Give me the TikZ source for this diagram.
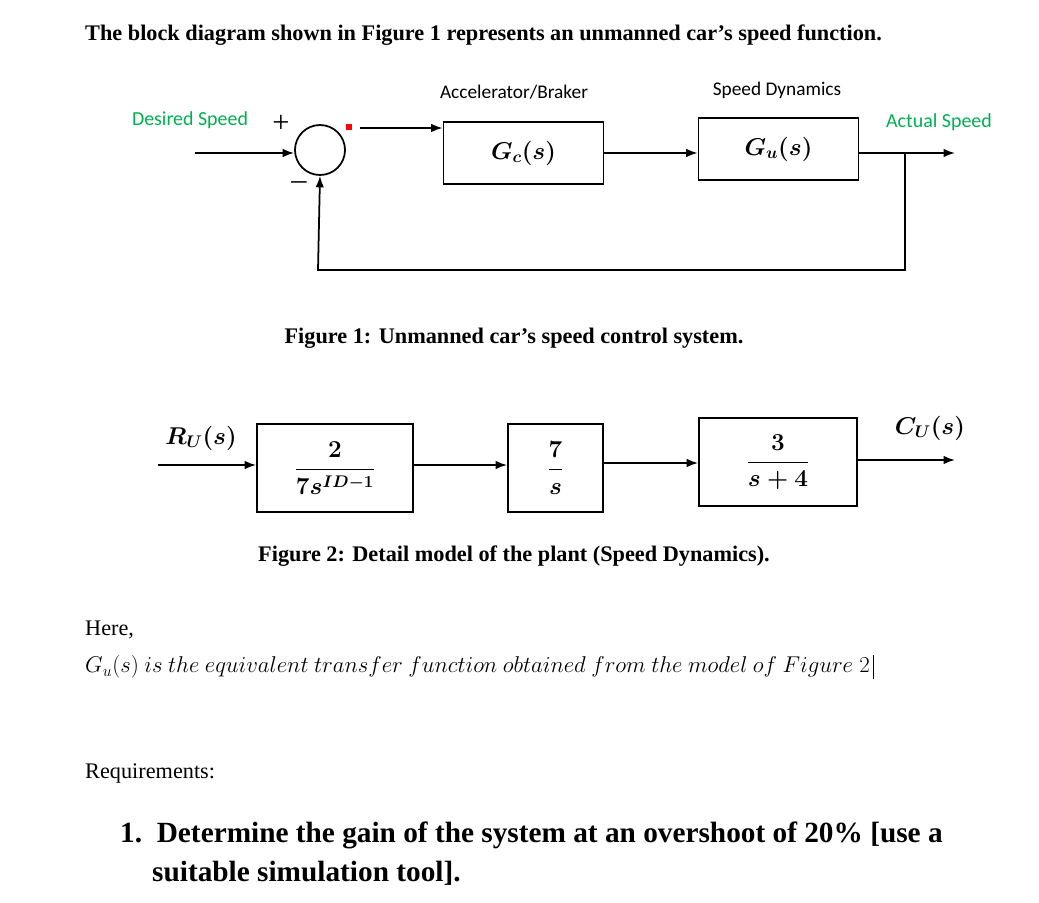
\documentclass[tikz,border=0pt]{standalone}
\usepackage{amsmath,bm}
\usepackage{fontspec}
\setmainfont{Liberation Serif}
\newfontfamily\carl{Carlito}
\usetikzlibrary{arrows.meta,positioning}
\definecolor{labelgreen}{RGB}{0,176,80}

\begin{document}
\begin{tikzpicture}[x=0.03cm, y=-0.03cm, >=Latex,
  every node/.style={inner sep=0pt},
  block/.style={draw, line width=1.5pt, minimum width=4.8cm, minimum height=1.86cm,
                font=\fontsize{22}{26}\selectfont},
  sig/.style={line width=1.5pt, ->},
  green label/.style={text=labelgreen, font=\carl\fontsize{17}{20}\selectfont},
  top label/.style={font=\carl\fontsize{16.5}{20}\selectfont},
  caption/.style={font=\bfseries\fontsize{19}{22}\selectfont},
  body/.style={anchor=west, font=\fontsize{19}{22}\selectfont}]
\useasboundingbox (0,0) rectangle (1039,903);

\node[anchor=west, font=\bfseries\fontsize{19}{22}\selectfont] (title) at (85,35)
  {The block diagram shown in Figure 1 represents an unmanned car’s speed function.};

% Figure 1
\node[draw, line width=1.5pt, circle, minimum size=1.5cm] (sum) at (320,150) {};
\coordinate (in) at (195,153);
\node[green label] (desired) at (190,120) {Desired Speed};
\node[font=\fontsize{26}{26}\selectfont] (plus) at (281,124) {+};
\node[font=\fontsize{26}{26}\selectfont] (minus) at (299,186) {\textendash};
\node[fill=red, minimum size=5pt] (dot) at (349,127) {};
\node[block] (gc) at (523.5,153) {$\bm{G_c(s)}$};
\node[block] (gu) at (778.5,149) {$\bm{G_u(s)}$};
\node[top label] (acc) at (514,92) {Accelerator/Braker};
\node[top label] (dyn) at (777,90) {Speed Dynamics};
\coordinate (out) at (955,153);
\coordinate (tap) at (905,153);
\node[green label] (actual) at (939,122) {Actual Speed};

\draw[sig] (in) -- (sum.west |- in);
\draw[sig] (360,128) -- (gc.west |- 0,128);
\draw[sig] (gc.east) -- (gu.west |- gc.east);
\draw[sig] (gu.east |- out) -- (out);
\draw[sig] (tap) -- (905,270) -- (318,270) -- (sum.south);

\node[caption] (cap1) at (514,338) {Figure 1: Unmanned car’s speed control system.};

% Figure 2
\node[block, minimum width=4.68cm, minimum height=2.64cm] (b1) at (335,468)
  {$\bm{\dfrac{2}{7s^{ID-1}}}$};
\node[block, minimum width=2.85cm, minimum height=2.64cm] (b2) at (555.5,468)
  {$\bm{\dfrac{7}{s}}$};
\node[block, minimum width=4.74cm, minimum height=2.64cm] (b3) at (778,462)
  {$\bm{\dfrac{3}{s+4}}$};
\coordinate (rin) at (158,465);
\coordinate (cout) at (955,460);
\node[font=\fontsize{22}{26}\selectfont] (ru) at (201,438) {$\bm{R_U(s)}$};
\node[font=\fontsize{22}{26}\selectfont] (cu) at (930,428) {$\bm{C_U(s)}$};

\draw[sig] (rin) -- (b1.west |- rin);
\draw[sig] (b1.east |- 0,465) -- (b2.west |- 0,465);
\draw[sig] (b2.east |- 0,463) -- (b3.west |- 0,463);
\draw[sig] (b3.east |- cout) -- (cout);

\node[caption] (cap2) at (514,556) {Figure 2: Detail model of the plant (Speed Dynamics).};

% text
\node[body] (here) at (85,630) {Here,};
\node[body, font=\fontsize{20}{24}\selectfont, scale=0.94, transform shape] (gutext) at (85,667)
  {$G_u(s)\ is\ the\ equivalent\ transfer\ function\ obtained\ from\ the\ model\ of\ Figure\ 2$};
\draw (gutext.east) ++(3,-12) -- ++(0,24);
\node[body] (req) at (85,773) {Requirements:};
\node[anchor=west, font=\bfseries\fontsize{25}{30}\selectfont] (q1) at (120,835)
  {1.\ \ Determine the gain of the system at an overshoot of 20\% [use a};
\node[anchor=west, font=\bfseries\fontsize{25}{30}\selectfont] (q1b) at (152,873)
  {suitable simulation tool].};
\end{tikzpicture}
\end{document}
